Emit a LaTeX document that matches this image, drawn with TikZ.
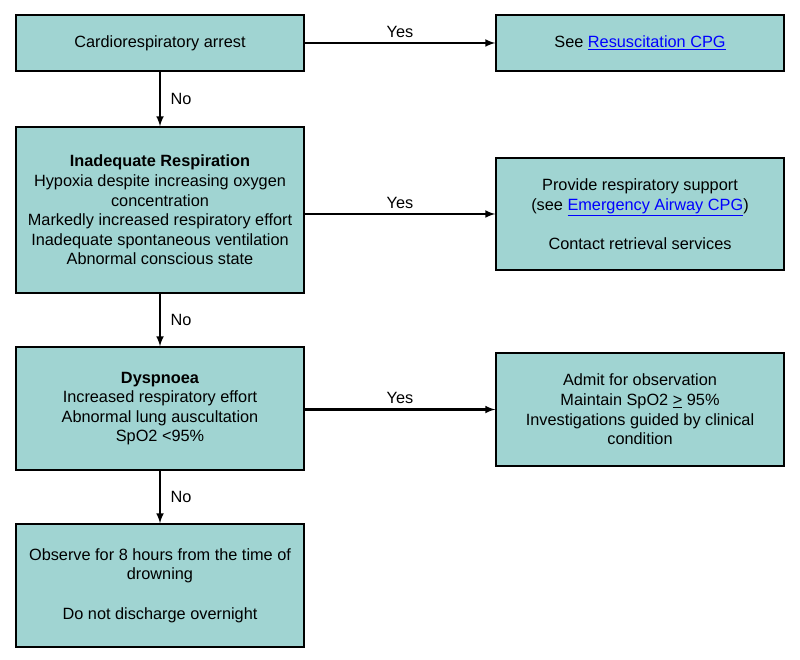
\documentclass[tikz,border=0pt]{standalone}
\usepackage{fontspec}
\setmainfont{Liberation Sans}
\usetikzlibrary{arrows}
\definecolor{boxfill}{HTML}{A0D4D2}
\newcommand{\cpglink}[1]{\textcolor{blue}{\underline{#1}}}
\begin{document}
\begin{tikzpicture}[x=1pt,y=-1pt]
	\tikzstyle{lien}=[->,>=latex,line width=2.4pt]
	\tikzset{etape/.style={draw,line width=1.4pt,fill=boxfill,rectangle,minimum width=288pt,inner sep=0pt,align=center,font=\fontsize{16.3}{19.6}\selectfont},etiq/.style={font=\fontsize{16.3}{19.6}\selectfont}}
	\useasboundingbox (0,0) rectangle (800,660);
	\node[etape,minimum height=56pt] (a1) at (160,43) {Cardiorespiratory arrest};
	\node[etape,minimum height=166pt] (a2) at (160,210) {\textbf{Inadequate Respiration}\\Hypoxia despite increasing oxygen\\concentration\\Markedly increased respiratory effort\\Inadequate spontaneous ventilation\\Abnormal conscious state};
	\node[etape,minimum height=123pt] (a3) at (160,408.5) {\textbf{Dyspnoea}\\Increased respiratory effort\\Abnormal lung auscultation\\SpO2 <95\%};
	\node[etape,minimum height=123pt] (a4) at (160,585.5) {Observe for 8 hours from the time of\\drowning\\[19.6pt]Do not discharge overnight};
	\node[etape,minimum height=56pt] (b1) at (640,43) {See \cpglink{Resuscitation CPG}};
	\node[etape,minimum height=112pt] (b2) at (640,214) {Provide respiratory support\\(see \cpglink{Emergency Airway CPG})\\[19.6pt]Contact retrieval services};
	\node[etape,minimum height=113pt] (b3) at (640,409.5) {Admit for observation\\Maintain SpO2 \underline{>} 95\%\\Investigations guided by clinical\\condition};
	\draw[lien] (a1) -- node[etiq,right=6pt]{No} (a2);
	\draw[lien] (a2) -- node[etiq,right=6pt]{No} (a3);
	\draw[lien] (a3) -- node[etiq,right=6pt]{No} (a4);
	\draw[lien] (a1) -- node[etiq,above=1pt]{Yes} (b1);
	\draw[lien] (b2.west -| a2.east) -- node[etiq,above=1pt]{Yes} (b2.west);
	\draw[lien] (b3.west -| a3.east) -- node[etiq,above=1pt]{Yes} (b3.west);
\end{tikzpicture}
\end{document}
